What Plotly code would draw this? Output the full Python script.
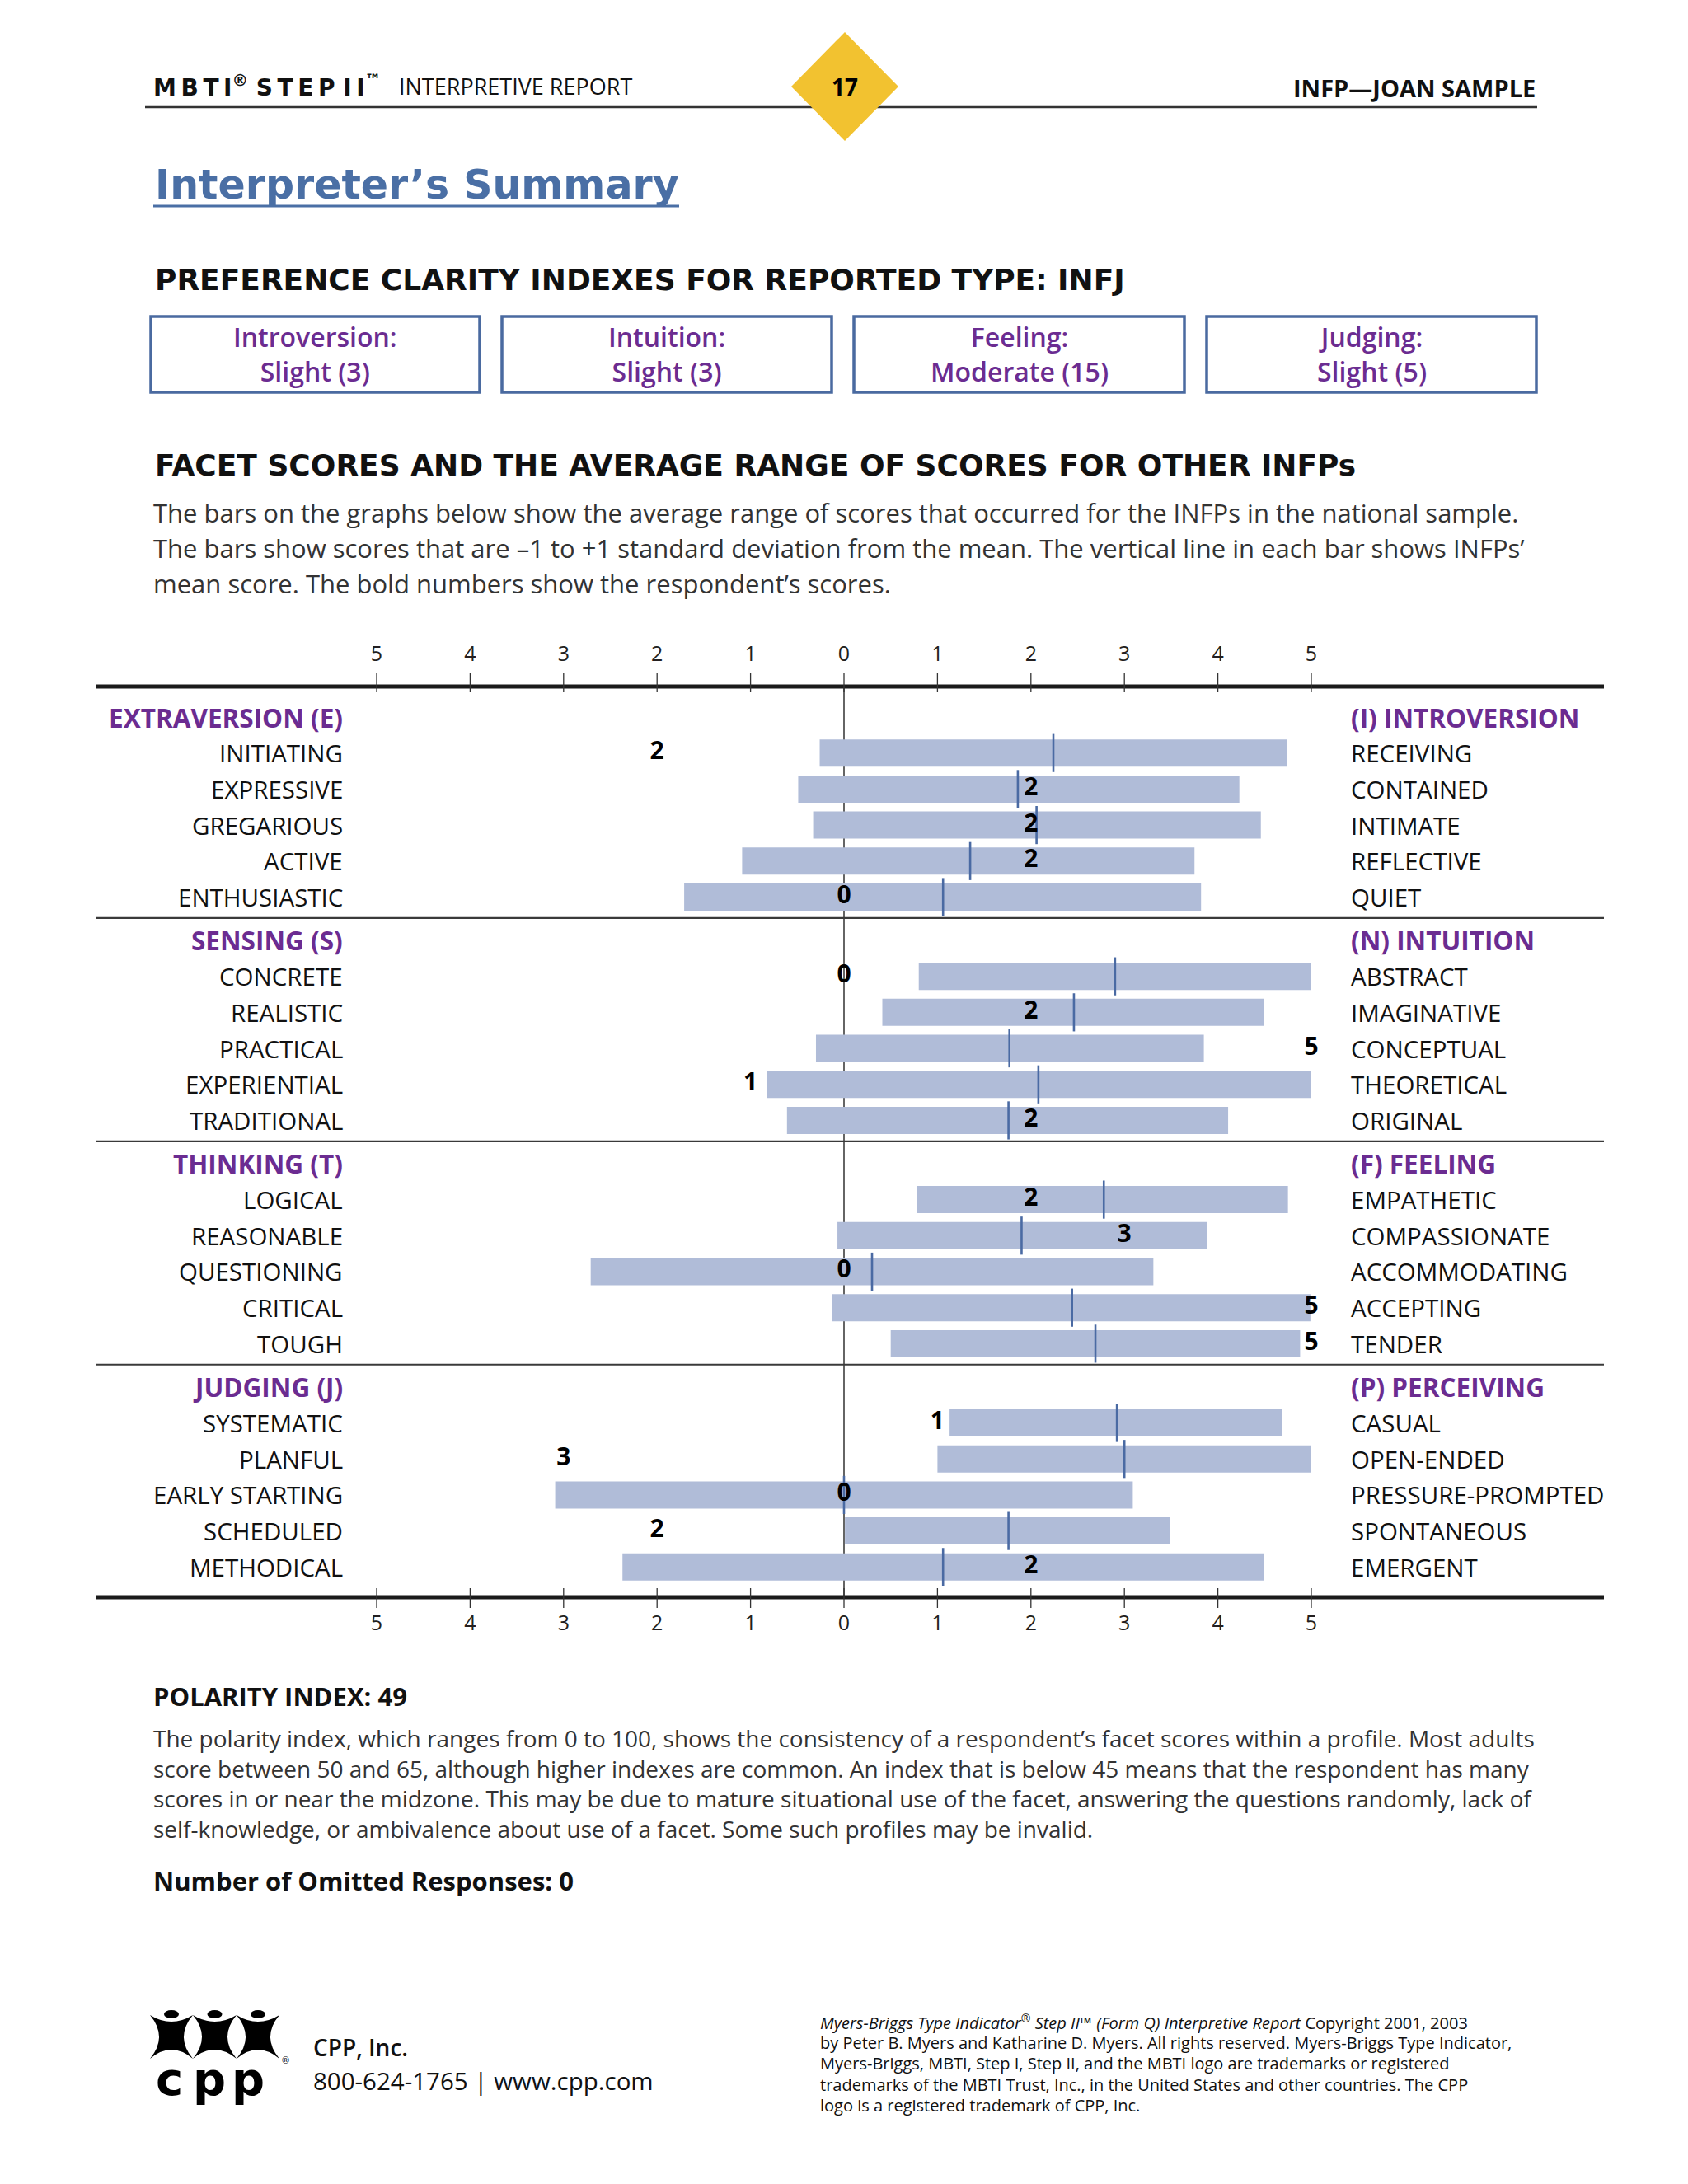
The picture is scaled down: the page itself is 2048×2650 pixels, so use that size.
import plotly.graph_objects as go

W, H = 2048, 2650
FONT = "Open Sans"
WIDE = "DejaVu Sans"
DARK = "#231f20"
TXT = "#333333"
PURPLE = "#6b2c91"
BLUE = "#4a6fa5"
BAR = "#b0bcd8"
MEANC = "#4a6aa3"
YELLOW = "#f2c230"

# ---------------- data ----------------
left_poles = ["EXTRAVERSION (E)", "SENSING (S)", "THINKING (T)", "JUDGING (J)"]
right_poles = ["(I) INTROVERSION", "(N) INTUITION", "(F) FEELING", "(P) PERCEIVING"]
left_facets = [
    ["INITIATING", "EXPRESSIVE", "GREGARIOUS", "ACTIVE", "ENTHUSIASTIC"],
    ["CONCRETE", "REALISTIC", "PRACTICAL", "EXPERIENTIAL", "TRADITIONAL"],
    ["LOGICAL", "REASONABLE", "QUESTIONING", "CRITICAL", "TOUGH"],
    ["SYSTEMATIC", "PLANFUL", "EARLY STARTING", "SCHEDULED", "METHODICAL"],
]
right_facets = [
    ["RECEIVING", "CONTAINED", "INTIMATE", "REFLECTIVE", "QUIET"],
    ["ABSTRACT", "IMAGINATIVE", "CONCEPTUAL", "THEORETICAL", "ORIGINAL"],
    ["EMPATHETIC", "COMPASSIONATE", "ACCOMMODATING", "ACCEPTING", "TENDER"],
    ["CASUAL", "OPEN-ENDED", "PRESSURE-PROMPTED", "SPONTANEOUS", "EMERGENT"],
]
# -1 SD .. +1 SD range of INFP scores (negative = left pole)
bar_low = [-0.26, -0.49, -0.33, -1.09, -1.71,
           0.80, 0.41, -0.30, -0.82, -0.61,
           0.78, -0.07, -2.71, -0.13, 0.50,
           1.13, 1.00, -3.09, 0.01, -2.37]
bar_high = [4.74, 4.23, 4.46, 3.75, 3.82,
            5.00, 4.49, 3.85, 5.00, 4.11,
            4.75, 3.88, 3.31, 4.99, 4.88,
            4.69, 5.00, 3.09, 3.49, 4.49]
mean_vals = [2.24, 1.86, 2.06, 1.35, 1.06,
             2.90, 2.46, 1.77, 2.08, 1.76,
             2.78, 1.90, 0.30, 2.44, 2.69,
             2.92, 3.00, 0.00, 1.76, 1.06]
# respondent scores (negative = left pole)
scores = [-2, 2, 2, 2, 0,
          0, 2, 5, -1, 2,
          2, 3, 0, 5, 5,
          1, -3, 0, -2, 2]
tick_vals = [-5, -4, -3, -2, -1, 0, 1, 2, 3, 4, 5]
tick_text = ["5", "4", "3", "2", "1", "0", "1", "2", "3", "4", "5"]

clarity_boxes = [("Introversion:", "Slight (3)"), ("Intuition:", "Slight (3)"),
                 ("Feeling:", "Moderate (15)"), ("Judging:", "Slight (5)")]

intro_lines = [
    "The bars on the graphs below show the average range of scores that occurred for the INFPs in the national sample.",
    "The bars show scores that are \u20131 to +1 standard deviation from the mean. The vertical line in each bar shows INFPs\u2019",
    "mean score. The bold numbers show the respondent\u2019s scores.",
]
polarity_lines = [
    "The polarity index, which ranges from 0 to 100, shows the consistency of a respondent\u2019s facet scores within a profile. Most adults",
    "score between 50 and 65, although higher indexes are common. An index that is below 45 means that the respondent has many",
    "scores in or near the midzone. This may be due to mature situational use of the facet, answering the questions randomly, lack of",
    "self-knowledge, or ambivalence about use of a facet. Some such profiles may be invalid.",
]
copyright_lines = [
    "<i>Myers-Briggs Type Indicator<sup>\u00ae</sup> Step II\u2122 (Form Q) Interpretive Report</i> Copyright 2001, 2003",
    "by Peter B. Myers and Katharine D. Myers. All rights reserved. Myers-Briggs Type Indicator,",
    "Myers-Briggs, MBTI, Step I, Step II, and the MBTI logo are trademarks or registered",
    "trademarks of the MBTI Trust, Inc., in the United States and other countries. The CPP",
    "logo is a registered trademark of CPP, Inc.",
]

# ---------------- layout geometry ----------------
ROW_PX = 43.7      # pixels per row unit
ROW0_PX = 870      # pixel y of first header row
GROUP_STEP = 6.2   # row units per group
UNIT_PX = 113.4    # pixels per score unit
ZERO_PX = 1024


def px(x):
    return x / W


def py(y):
    return 1 - y / H


def rowpos(pix):
    return (pix - ROW0_PX) / ROW_PX


header_pos = [g * GROUP_STEP for g in range(4)]
facet_pos = [g * GROUP_STEP + r for g in range(4) for r in range(1, 6)]
sep_pos = [g * GROUP_STEP + 5.58 for g in range(3)]
top_line = rowpos(833)
bot_line = rowpos(1938)

fig = go.Figure()

fig.add_trace(go.Bar(
    y=facet_pos, x=[h - l for l, h in zip(bar_low, bar_high)], base=bar_low,
    orientation="h", width=0.755,
    marker=dict(color=BAR, line=dict(width=0)), hoverinfo="skip"))
fig.add_trace(go.Scatter(
    x=mean_vals, y=facet_pos, mode="markers",
    marker=dict(symbol="line-ns", size=33, color=MEANC, line=dict(width=2.6, color=MEANC)),
    hoverinfo="skip"))
fig.add_trace(go.Scatter(
    x=scores, y=facet_pos, mode="text", text=["<b>%d</b>" % abs(s) for s in scores],
    textfont=dict(family=FONT, size=30, color="#000000"), textposition="middle center",
    cliponaxis=False, hoverinfo="skip"))
for lab_y in (rowpos(796), rowpos(1972)):
    fig.add_trace(go.Scatter(
        x=tick_vals, y=[lab_y] * len(tick_vals), mode="text", text=tick_text,
        textfont=dict(family=FONT, size=25, color=DARK), textposition="middle center",
        cliponaxis=False, hoverinfo="skip"))

shapes = []
ann = []


def text(x, y, s, size, color=DARK, xanchor="left", yanchor="middle", weight=None,
         family=FONT, yref="paper"):
    f = dict(family=family, size=size, color=color)
    if weight:
        f["weight"] = weight
    ann.append(dict(x=px(x), y=(py(y) if yref == "paper" else y), xref="paper", yref=yref,
                    text=s, showarrow=False, xanchor=xanchor, yanchor=yanchor, font=f,
                    align="left" if xanchor == "left" else ("right" if xanchor == "right" else "center")))


def pline(x0, y0, x1, y1, color, width):
    shapes.append(dict(type="line", xref="paper", yref="paper", x0=px(x0), y0=py(y0),
                       x1=px(x1), y1=py(y1), line=dict(color=color, width=width)))


def ppath(cmds, fill):
    shapes.append(dict(type="path", xref="paper", yref="paper", path=cmds,
                       fillcolor=fill, line=dict(color=fill, width=0)))


def P(x, y):
    return "%.6f,%.6f" % (px(x), py(y))


# ---------------- header ----------------
pline(176, 130, 1865, 130, "#333333", 2.5)
ppath("M %s L %s L %s L %s Z" % (P(960, 105), P(1025, 39), P(1090, 105), P(1025, 171)), YELLOW)
text(1025, 105, "<b>17</b>", 28, color="#000000", xanchor="center")
TS = "\u2009"
mbti = TS.join("MBTI") + "<sup>\u00ae</sup> " + TS.join("STEP") + " " + TS.join("II") + "<sup>\u2122</sup>"
text(184, 105, "<b>%s</b>" % mbti, 28, color="#111111", family=WIDE)
text(482, 105, "INTERPRETIVE REPORT", 27, color="#111111")
text(1865, 107, "<b>INFP\u2014JOAN SAMPLE</b>", 29, color="#111111", xanchor="right")

text(186, 224, "<b>Interpreter\u2019s Summary</b>", 49, color=BLUE, family=WIDE)
pline(186, 250, 824, 250, BLUE, 3)

text(186, 340, "<b>PREFERENCE CLARITY INDEXES FOR REPORTED TYPE: INFJ</b>", 36, color="#111111", family=WIDE)

box_x = [(183, 582), (609, 1009), (1036, 1437), (1464, 1864)]
for (x0, x1), (l1, l2) in zip(box_x, clarity_boxes):
    shapes.append(dict(type="rect", xref="paper", yref="paper", x0=px(x0), x1=px(x1),
                       y0=py(476), y1=py(384), line=dict(color="#4a6aa0", width=3.5)))
    text((x0 + x1) / 2, 430, "%s<br>%s" % (l1, l2), 32, color=PURPLE, xanchor="center", weight=600)

text(186, 564, "<b>FACET SCORES AND THE AVERAGE RANGE OF SCORES FOR OTHER INFPs</b>", 36, color="#111111", family=WIDE)
for i, line in enumerate(intro_lines):
    text(184, 622 + i * 43, line, 31, color=TXT)

# ---------------- facet chart decorations ----------------
shapes.append(dict(type="line", xref="paper", yref="y", x0=px(117), x1=px(1946),
                   y0=top_line, y1=top_line, line=dict(color="#1a1a1a", width=5)))
shapes.append(dict(type="line", xref="paper", yref="y", x0=px(117), x1=px(1946),
                   y0=bot_line, y1=bot_line, line=dict(color="#1a1a1a", width=5)))
for s in sep_pos:
    shapes.append(dict(type="line", xref="paper", yref="y", x0=px(117), x1=px(1946),
                       y0=s, y1=s, line=dict(color="#3a3a3a", width=2.2)))
shapes.append(dict(type="line", xref="x", yref="y", x0=0, x1=0, y0=top_line, y1=bot_line,
                   line=dict(color="#111111", width=1.3), layer="below"))
for t in tick_vals:
    shapes.append(dict(type="line", xref="x", yref="y", x0=t, x1=t,
                       y0=rowpos(816), y1=rowpos(840), line=dict(color="#333333", width=1.3)))
    shapes.append(dict(type="line", xref="x", yref="y", x0=t, x1=t,
                       y0=rowpos(1927), y1=rowpos(1951), line=dict(color="#333333", width=1.3)))

for g in range(4):
    text(418, header_pos[g], "<b>%s</b>" % left_poles[g], 31.5, color=PURPLE, xanchor="right", yref="y")
    text(1637, header_pos[g], "<b>%s</b>" % right_poles[g], 31.5, color=PURPLE, xanchor="left", yref="y")
    for r in range(5):
        yp = header_pos[g] + r + 1
        text(418, yp, left_facets[g][r], 29.5, color="#111111", xanchor="right", yref="y")
        text(1637, yp, right_facets[g][r], 29.5, color="#111111", xanchor="left", yref="y")

# ---------------- polarity ----------------
text(184, 2058, "<b>POLARITY INDEX: 49</b>", 31, color="#111111")
for i, line in enumerate(polarity_lines):
    text(184, 2109 + i * 36.7, line, 28, color=TXT)
text(184, 2282, "<b>Number of Omitted Responses: 0</b>", 31, color="#111111")

# ---------------- footer logo ----------------
body_x = [(182, 234), (234, 287), (287, 339)]
y0b, y1b = 2445, 2498
for (x0, x1) in body_x:
    cx, cy = (x0 + x1) / 2, (y0b + y1b) / 2
    d = 22
    path = ("M %s Q %s %s Q %s %s Q %s %s Q %s %s Z" % (
        P(x0, y0b), P(cx, y0b + 16), P(x1, y0b), P(x1 - d, cy), P(x1, y1b),
        P(cx, y1b - d), P(x0, y1b), P(x0 + d, cy), P(x0, y0b)))
    ppath(path, "#000000")
    shapes.append(dict(type="circle", xref="paper", yref="paper",
                       x0=px(cx - 9), x1=px(cx + 9), y0=py(2449), y1=py(2439),
                       fillcolor="#000000", line=dict(color="#000000", width=0)))
for lx, letter in zip([205, 254, 301], ["c", "p", "p"]):
    text(lx, 2522, "<b>%s</b>" % letter, 56, color="#000000", xanchor="center", family=WIDE)
text(346, 2499, "\u00ae", 11, color="#000000", xanchor="center")

text(378, 2484, "CPP, Inc.", 28, color="#111111", weight=600)
text(378, 2524, "800-624-1765 | www.cpp.com", 29.5, color="#111111")
for i, line in enumerate(copyright_lines):
    text(993, 2453 + i * 25.4, line, 20, color="#111111")

fig.update_layout(
    width=W, height=H, margin=dict(l=0, r=0, t=0, b=0),
    paper_bgcolor="white", plot_bgcolor="white", showlegend=False, barmode="overlay",
    xaxis=dict(range=[-ZERO_PX / UNIT_PX, (W - ZERO_PX) / UNIT_PX], domain=[0, 1],
               visible=False, fixedrange=True),
    yaxis=dict(range=[rowpos(H), rowpos(0)], domain=[0, 1], visible=False, fixedrange=True),
    shapes=shapes, annotations=ann,
)

fig.write_html("out.html", config={"displayModeBar": False},
               post_script="document.body.style.margin='0';document.body.style.overflow='hidden';")
